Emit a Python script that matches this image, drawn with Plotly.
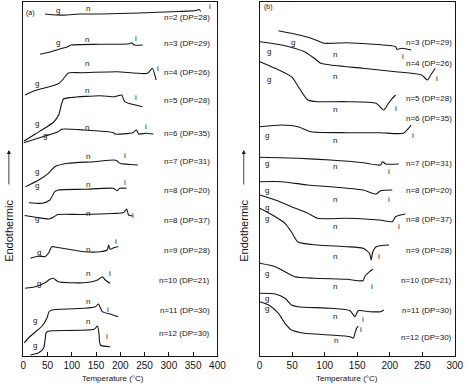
import plotly.graph_objects as go

# ---------------- Panel (a): temperature (°C) and relative heat flow (arb. units, endothermic up)
a_n2_T = [45, 69, 91, 115, 159, 239, 320, 356, 362, 366]
a_n2_s = [342, 341, 341, 342, 342, 343, 344.5, 345.5, 346.5, 344.5]
a_n3_T = [35, 59, 79, 92, 99, 159, 219, 223, 229, 246]
a_n3_s = [301.7, 304.5, 307.5, 309.3, 311, 311.7, 312.3, 313.3, 311, 311]
a_n4_T = [4, 19, 39, 59, 73, 81, 87, 93, 103, 119, 193, 256, 266, 273, 274]
a_n4_s = [261, 264.5, 267.5, 270, 272.5, 276, 280, 283, 283.5, 283.3, 284.3, 282.7, 287.7, 277.7, 276]
a_n5_T = [2, 25, 45, 63, 73, 79, 83, 99, 159, 189, 203, 209, 246]
a_n5_s = [215, 222, 228, 234, 241, 252, 257, 258.5, 260.3, 259.3, 261, 254.3, 249.3]
a_n6_T = [1, 45, 72, 79, 126, 186, 189, 226, 233, 238, 253, 268]
a_n6_s = [213.3, 220, 224.3, 226.7, 226, 223.3, 222, 223.3, 226, 222, 222.7, 222]
a_n7_T = [5, 32, 52, 65, 92, 146, 186, 193, 199, 236]
a_n7_s = [169.3, 176, 182.7, 189.3, 192.7, 194.3, 196, 195.3, 192.7, 191]
a_n8a_T = [12, 39, 55, 65, 72, 126, 186, 193, 199, 213]
a_n8a_s = [153.3, 152.7, 156, 164.3, 166, 166.7, 167.7, 165.3, 167.7, 167.7]
a_n8b_T = [3, 29, 53, 63, 71, 119, 185, 207, 213, 217, 225]
a_n8b_s = [140.5, 138.5, 137, 139, 141.5, 141.5, 142.5, 143.5, 147, 141, 140]
a_n9_T = [15, 32, 45, 52, 59, 69, 126, 159, 173, 176, 179, 189, 196]
a_n9_s = [97.7, 100, 99.3, 102.7, 109.3, 108.7, 104.3, 104.3, 106, 111, 106.7, 108.7, 109.3]
a_n10_T = [4, 25, 45, 55, 62, 72, 126, 153, 163, 169, 179]
a_n10_s = [67.7, 69.3, 73.3, 76.7, 77.7, 74.3, 73.3, 76, 79.3, 76, 72.7]
a_n11_T = [2, 13, 25, 39, 49, 53, 59, 125, 149, 155, 163, 179, 195]
a_n11_s = [13, 19, 24, 30, 38, 44, 46, 47.7, 49.3, 52, 44.3, 42, 39.3]
a_n12_T = [15, 32, 42, 47, 49, 59, 146, 153, 156, 159, 179]
a_n12_s = [1, 3.3, 7.7, 22.7, 24.3, 25.3, 26.7, 30, 22.7, 11, 9.3]

a_names = ["n=2 (DP=28)", "n=3 (DP=29)", "n=4 (DP=26)", "n=5 (DP=28)", "n=6 (DP=35)",
           "n=7 (DP=31)", "n=8 (DP=20)", "n=8 (DP=37)", "n=9 (DP=28)", "n=10 (DP=21)",
           "n=11 (DP=30)", "n=12 (DP=30)"]
a_name_s = [338.3, 312.7, 283.3, 256, 222.7, 194.3, 165.3, 136, 106, 76, 46, 22.7]
a_g = [(71, 346), (71, 313.3), (29, 272.7), (29, 232.7), (45, 221), (29, 184.3), (29, 171),
       (29, 137.7), (32, 103.3), (32, 72.7), (24, 35.3), (25, 11)]
a_n = [(134, 347.7), (131, 316.7), (130.5, 292.7), (131, 265.3), (131, 228.7), (134, 200),
       (134, 172), (134, 142.7), (134, 106.7), (134, 82.7), (134, 54.3), (134, 34.3)]
a_i = [(385, 350), (233, 317.3), (278, 287.7), (233, 258.7), (253, 230), (209, 201),
       (209, 173.3), (226, 141), (191, 114.3), (179, 82.7), (174, 46.7), (173, 19.3)]

# ---------------- Panel (b)
b_n3_T = [29, 49, 74, 89, 99, 134, 169, 209, 211, 219, 233]
b_n3_s = [325.3, 322.7, 318.7, 315.3, 312.7, 313.3, 312, 309.3, 306.7, 307.7, 306]
b_n4_T = [0.3, 34, 69, 84, 94, 109, 159, 209, 249, 258, 264, 270]
b_n4_s = [314.3, 311, 304.3, 297.7, 292.7, 291, 287.7, 284.3, 281, 276, 282, 287.7]
b_n5_T = [0.3, 24, 49, 61, 74, 89, 134, 179, 191, 198, 204, 209]
b_n5_s = [294.3, 287.7, 279.3, 267.7, 256, 254.3, 254.3, 252.7, 246, 252.7, 257.7, 261]
b_n6_T = [0.3, 34, 59, 79, 134, 184, 221, 229, 233]
b_n6_s = [229.3, 231, 229.3, 224.3, 223.3, 223.3, 222.7, 227.7, 231]
b_n7_T = [0.3, 59, 109, 159, 186, 189, 194, 214]
b_n7_s = [198.7, 197.7, 196, 193.3, 191, 194.3, 192, 192]
b_n8a_T = [0.3, 34, 74, 109, 159, 179, 186, 204]
b_n8a_s = [174.3, 174.3, 171, 169.3, 166, 162, 165.3, 166]
b_n8b_T = [0.3, 24, 49, 74, 89, 134, 184, 204, 209, 224]
b_n8b_s = [161, 156, 149.3, 142.7, 137.7, 137.7, 136, 134.3, 139.3, 142]
b_n9_T = [0.3, 24, 39, 49, 59, 89, 134, 159, 169, 171.5, 174, 179, 199]
b_n9_s = [147.7, 139.3, 132.7, 124, 114, 111, 109.3, 107.7, 102.7, 96, 104.3, 109.3, 111]
b_n10_T = [0.3, 24, 39, 54, 84, 134, 159, 161.5, 169, 174]
b_n10_s = [92.7, 89.3, 84.3, 79.3, 77.7, 76.7, 75.3, 79.3, 84.3, 86.7]
b_n11_T = [0.3, 24, 39, 49, 59, 109, 139, 146.5, 151.5, 169, 186, 191]
b_n11_s = [62.7, 62, 57.7, 51, 49.3, 47.7, 45.3, 39.3, 45.3, 44.3, 44.3, 46]
b_n12_T = [0.3, 14, 29, 39, 49, 69, 109, 139, 144, 146.5, 149, 151.5]
b_n12_s = [54.3, 51, 42.7, 32.7, 26, 22.7, 21, 19.3, 17.7, 22.7, 27.7, 30]

b_names = ["n=3 (DP=29)", "n=4 (DP=26)", "n=5 (DP=28)", "n=6 (DP=35)", "n=7 (DP=31)",
           "n=8 (DP=20)", "n=8 (DP=37)", "n=9 (DP=28)", "n=10 (DP=21)", "n=11 (DP=30)",
           "n=12 (DP=30)"]
b_name_s = [313.3, 292.7, 257.7, 237.7, 192.7, 165.3, 136.7, 106, 76, 46, 18.7]
b_g = [(52, 313.3), (14, 304.3), (14, 276.7), (11.5, 221), (11.5, 192.7), (11.5, 166),
       (11.5, 148.7), (11.5, 137.7), (11.5, 82.7), (11.5, 57.5), (11.5, 48)]
b_n = [(116.4, 302), (116.4, 280), (116.4, 246.7), (116.4, 216), (116.4, 189.3), (116.4, 156.7),
       (116.4, 130), (116.4, 99.3), (116.4, 70), (116.4, 40), (118, 16)]
b_i = [(220, 300), (273, 277.7), (209, 247.7), (236, 221), (199, 184.3), (199, 156.7),
       (214, 129.3), (183, 100), (173, 70), (159, 36.7), (156.5, 26.7)]

a_ticks = [0, 50, 100, 150, 200, 250, 300, 350, 400]
b_ticks = [0, 50, 100, 150, 200, 250, 300]

a_curves = [(a_n2_T, a_n2_s), (a_n3_T, a_n3_s), (a_n4_T, a_n4_s), (a_n5_T, a_n5_s),
            (a_n6_T, a_n6_s), (a_n7_T, a_n7_s), (a_n8a_T, a_n8a_s), (a_n8b_T, a_n8b_s),
            (a_n9_T, a_n9_s), (a_n10_T, a_n10_s), (a_n11_T, a_n11_s), (a_n12_T, a_n12_s)]
b_curves = [(b_n3_T, b_n3_s), (b_n4_T, b_n4_s), (b_n5_T, b_n5_s), (b_n6_T, b_n6_s),
            (b_n7_T, b_n7_s), (b_n8a_T, b_n8a_s), (b_n8b_T, b_n8b_s), (b_n9_T, b_n9_s),
            (b_n10_T, b_n10_s), (b_n11_T, b_n11_s), (b_n12_T, b_n12_s)]

INK = "#141414"
FONT = "Liberation Sans, Arial, sans-serif"

fig = go.Figure()
for T, s in a_curves:
    fig.add_trace(go.Scatter(x=T, y=s, mode="lines", xaxis="x", yaxis="y",
                             line=dict(color=INK, width=1.1, shape="spline", smoothing=0.6),
                             hoverinfo="skip", showlegend=False))
for T, s in b_curves:
    fig.add_trace(go.Scatter(x=T, y=s, mode="lines", xaxis="x2", yaxis="y2",
                             line=dict(color=INK, width=1.1, shape="spline", smoothing=0.6),
                             hoverinfo="skip", showlegend=False))

ann = []
def lab(xr, yr, x, y, text, size=8, xanchor="center"):
    ann.append(dict(x=x, y=y, xref=xr, yref=yr, text=text, showarrow=False,
                    xanchor=xanchor, yanchor="middle",
                    font=dict(family=FONT, size=size, color=INK)))

for name, ys in zip(a_names, a_name_s):
    lab("x", "y", 388, ys, name, 8, "right")
for lst, ch in ((a_g, "g"), (a_n, "n"), (a_i, "i")):
    for (x, y) in lst:
        lab("x", "y", x, y, ch, 8)
for name, ys in zip(b_names, b_name_s):
    lab("x2", "y2", 299.5, ys, name, 8, "right")
for lst, ch in ((b_g, "g"), (b_n, "n"), (b_i, "i")):
    for (x, y) in lst:
        lab("x2", "y2", x, y, ch, 8)

lab("x", "y", 16, 343, "(a)", 7)
lab("x2", "y2", 13, 349, "(b)", 7)

W, H = 474, 384
def px(x):
    return x / W
def py(y):
    return (356 - y) / 354

for xc in (112.7, 353):
    ann.append(dict(x=px(xc), y=py(378), xref="paper", yref="paper", text="Temperature (°C)",
                    showarrow=False, xanchor="center", yanchor="middle",
                    font=dict(family=FONT, size=8, color=INK)))
for xc in (6, 247):
    ann.append(dict(x=px(xc), y=py(231), xref="paper", yref="paper", text="Endothermic",
                    showarrow=False, textangle=-90, xanchor="center", yanchor="middle",
                    font=dict(family=FONT, size=11, color=INK)))
    ann.append(dict(x=px(xc), y=py(150), xref="paper", yref="paper", text="",
                    showarrow=True, ax=0, ay=36, arrowhead=2, arrowsize=1, arrowwidth=0.8,
                    arrowcolor=INK))

axis_common = dict(showline=True, mirror=True, linecolor=INK, linewidth=1,
                   showgrid=False, zeroline=False)
fig.update_layout(
    width=W, height=H, margin=dict(l=0, r=0, t=2, b=28),
    paper_bgcolor="white", plot_bgcolor="white",
    xaxis=dict(domain=[px(20.7), px(220)], range=[0, 400], tickvals=a_ticks,
               ticks="inside", ticklen=4, tickcolor=INK,
               tickfont=dict(family=FONT, size=10, color=INK), anchor="y", **axis_common),
    yaxis=dict(domain=[0, 1], range=[0, 354], showticklabels=False, ticks="",
               anchor="x", **axis_common),
    xaxis2=dict(domain=[px(263.3), px(463.5)], range=[0, 300], tickvals=b_ticks,
                ticks="inside", ticklen=4, tickcolor=INK,
                tickfont=dict(family=FONT, size=10, color=INK), anchor="y2", **axis_common),
    yaxis2=dict(domain=[0, 1], range=[0, 354], showticklabels=False, ticks="",
                anchor="x2", **axis_common),
    annotations=ann,
)

fig.write_html("out.html", config={"displayModeBar": False},
               post_script="document.body.style.margin='0';")
